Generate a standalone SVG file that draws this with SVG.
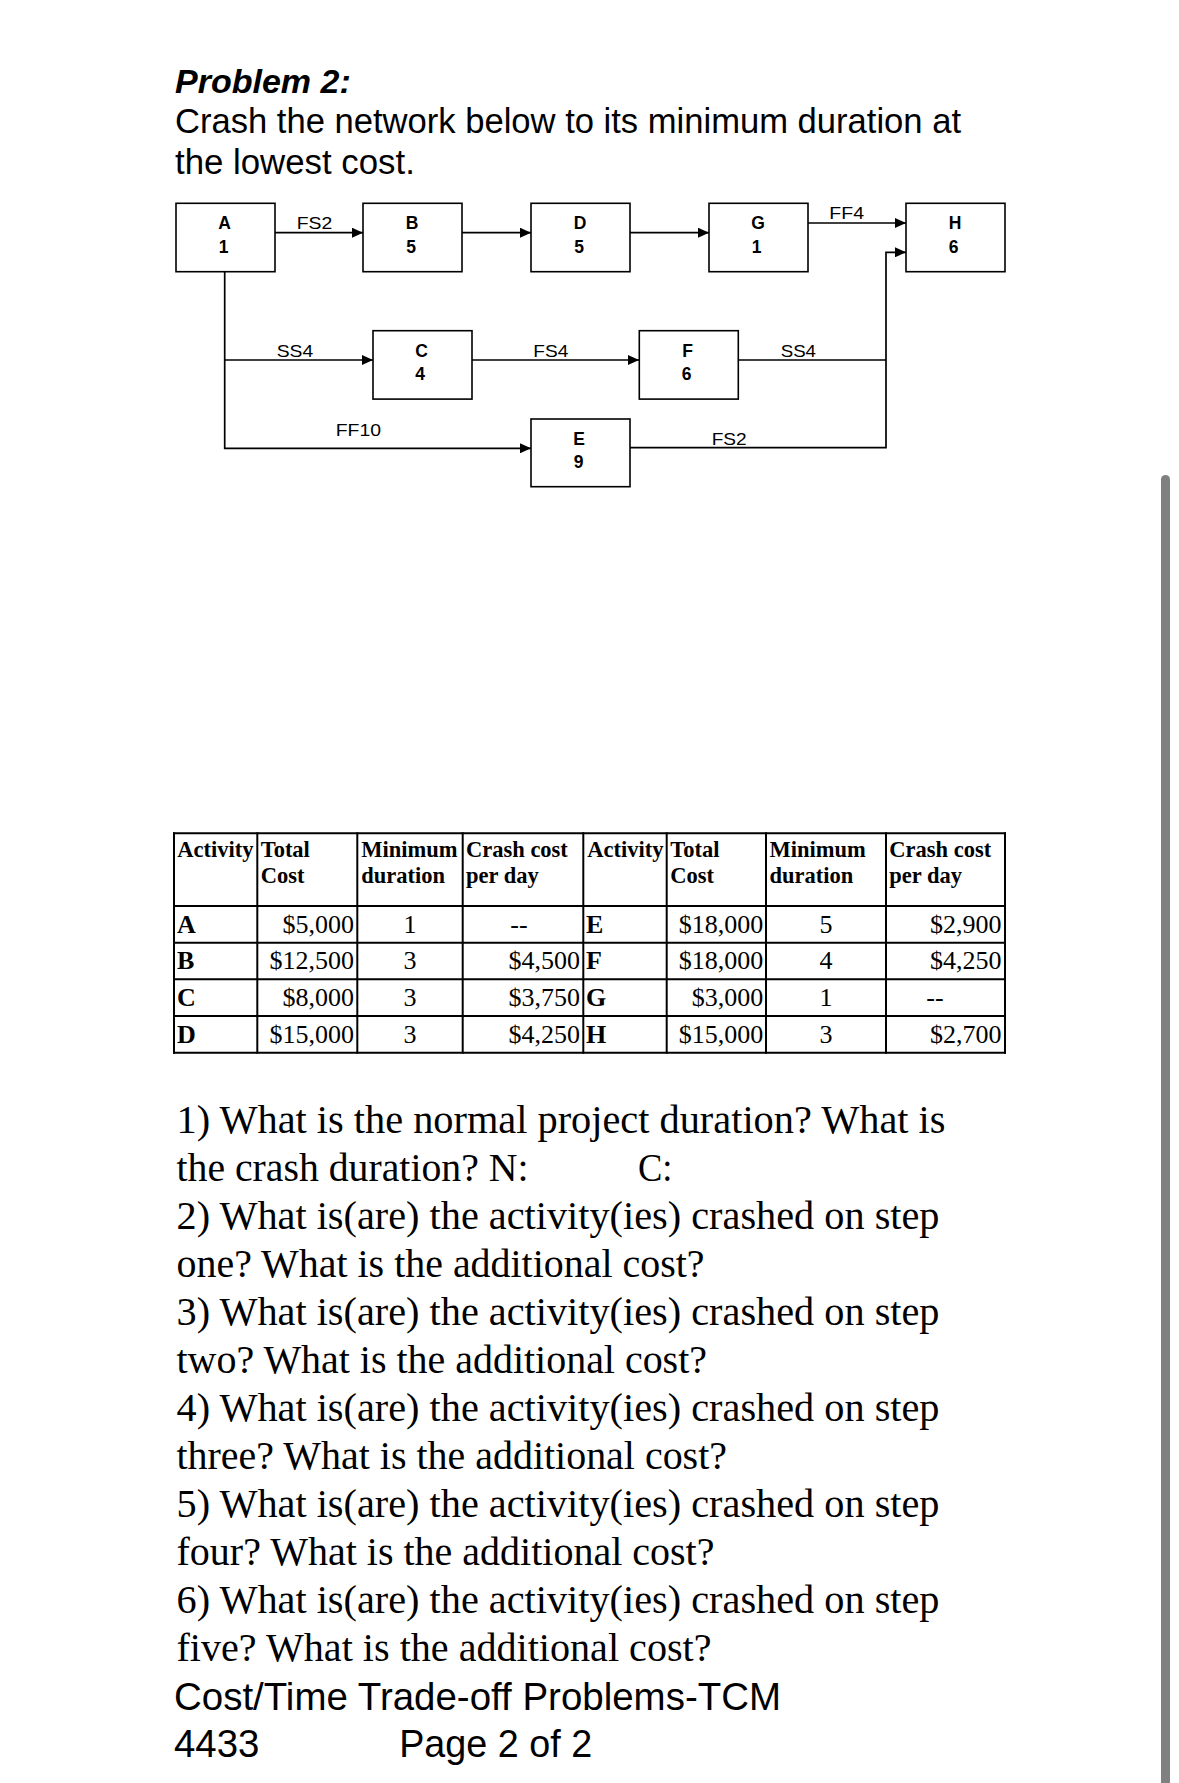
<svg xmlns="http://www.w3.org/2000/svg" width="1179" height="1783" viewBox="0 0 1179 1783">
<style>
.box{fill:#fff;stroke:#000;stroke-width:1.6}
.nt{font-family:"Liberation Sans",Arial,sans-serif;font-weight:bold;font-size:17.5px;text-anchor:middle;fill:#000}
.lbl{font-family:"Liberation Sans",Arial,sans-serif;font-size:16.5px;fill:#000}
.con{fill:none;stroke:#000;stroke-width:1.7}
.thin{fill:none;stroke:#000;stroke-width:1.3}
.tl{stroke:#000;stroke-width:2}
.th{font-family:"Liberation Serif","Times New Roman",serif;font-weight:bold;font-size:22.5px;fill:#000}
.td{font-family:"Liberation Serif","Times New Roman",serif;font-size:26px;fill:#000}
.tb{font-family:"Liberation Serif","Times New Roman",serif;font-weight:bold;font-size:26px;fill:#000}
.q{font-family:"Liberation Serif","Times New Roman",serif;font-size:39px;fill:#000}
.sans{font-family:"Liberation Sans",Arial,sans-serif;fill:#000}
</style>
<defs>
<marker id="ah" markerWidth="11" markerHeight="10" refX="11" refY="5" orient="auto" markerUnits="userSpaceOnUse"><path d="M0,0 L11,5 L0,10 z" fill="#000"/></marker>
</defs>
<rect width="1179" height="1783" fill="#fff"/>

<g id="title">
<text class="sans" x="175" y="92.5" font-size="34" font-weight="bold" font-style="italic">Problem 2:</text>
<text class="sans" x="175" y="133" font-size="34.8" textLength="786" lengthAdjust="spacingAndGlyphs">Crash the network below to its minimum duration at</text>
<text class="sans" x="175" y="173.5" font-size="34.8">the lowest cost.</text>
</g>

<g id="connectors">
<line class="con" x1="275" y1="232.7" x2="363" y2="232.7" marker-end="url(#ah)"/>
<line class="con" x1="462" y1="232.7" x2="531" y2="232.7" marker-end="url(#ah)"/>
<line class="con" x1="630" y1="232.7" x2="709" y2="232.7" marker-end="url(#ah)"/>
<line class="con" x1="808" y1="223" x2="906" y2="223" marker-end="url(#ah)"/>
<polyline class="con" points="224.7,272 224.7,448.3 531,448.3" marker-end="url(#ah)"/>
<line class="con" x1="224.7" y1="360" x2="373" y2="360" marker-end="url(#ah)"/>
<line class="con" x1="472" y1="360" x2="639" y2="360" marker-end="url(#ah)"/>
<line class="thin" x1="738" y1="360" x2="886" y2="360"/>
<polyline class="con" points="630,447.7 886,447.7 886,252.3 906,252.3" marker-end="url(#ah)"/>
<text class="lbl" x="296.7" y="229" textLength="35.5" lengthAdjust="spacingAndGlyphs">FS2</text>
<text class="lbl" x="276.7" y="356.7" textLength="36.5" lengthAdjust="spacingAndGlyphs">SS4</text>
<text class="lbl" x="335.7" y="435.7" textLength="45.3" lengthAdjust="spacingAndGlyphs">FF10</text>
<text class="lbl" x="533.3" y="356.7" textLength="35" lengthAdjust="spacingAndGlyphs">FS4</text>
<text class="lbl" x="829.3" y="218.7" textLength="34.7" lengthAdjust="spacingAndGlyphs">FF4</text>
<text class="lbl" x="780.7" y="356.7" textLength="35.3" lengthAdjust="spacingAndGlyphs">SS4</text>
<text class="lbl" x="711.7" y="445" textLength="35" lengthAdjust="spacingAndGlyphs">FS2</text>
</g>

<g id="node-A"><rect class="box" x="176" y="203.3" width="99" height="68.4"/><text class="nt" x="224.5" y="229.3">A</text><text class="nt" x="223.5" y="252.7">1</text></g>
<g id="node-B"><rect class="box" x="363" y="203.3" width="99" height="68.4"/><text class="nt" x="412" y="229.3">B</text><text class="nt" x="411" y="252.7">5</text></g>
<g id="node-D"><rect class="box" x="531" y="203.3" width="99" height="68.4"/><text class="nt" x="580" y="229.3">D</text><text class="nt" x="579" y="252.7">5</text></g>
<g id="node-G"><rect class="box" x="709" y="203.3" width="99" height="68.4"/><text class="nt" x="758" y="229.3">G</text><text class="nt" x="756.5" y="252.7">1</text></g>
<g id="node-H"><rect class="box" x="906" y="203.3" width="99" height="68.4"/><text class="nt" x="955" y="229.3">H</text><text class="nt" x="953.5" y="252.7">6</text></g>
<g id="node-C"><rect class="box" x="373" y="330.7" width="99" height="68.4"/><text class="nt" x="421.5" y="356.7">C</text><text class="nt" x="420" y="380">4</text></g>
<g id="node-F"><rect class="box" x="639.3" y="330.7" width="99" height="68.4"/><text class="nt" x="687.5" y="356.7">F</text><text class="nt" x="686.5" y="380">6</text></g>
<g id="node-E"><rect class="box" x="531" y="419" width="99" height="67.7"/><text class="nt" x="579" y="445">E</text><text class="nt" x="578.5" y="468">9</text></g>

<g id="table">
<g class="tl">
<line x1="173" y1="833.3" x2="1006" y2="833.3"/>
<line x1="173" y1="906" x2="1006" y2="906"/>
<line x1="173" y1="942.7" x2="1006" y2="942.7"/>
<line x1="173" y1="979.3" x2="1006" y2="979.3"/>
<line x1="173" y1="1016" x2="1006" y2="1016"/>
<line x1="173" y1="1052.7" x2="1006" y2="1052.7"/>
<line x1="174" y1="832.3" x2="174" y2="1053.7"/>
<line x1="257.3" y1="832.3" x2="257.3" y2="1053.7"/>
<line x1="357.3" y1="832.3" x2="357.3" y2="1053.7"/>
<line x1="462.7" y1="832.3" x2="462.7" y2="1053.7"/>
<line x1="583.3" y1="832.3" x2="583.3" y2="1053.7"/>
<line x1="666.7" y1="832.3" x2="666.7" y2="1053.7"/>
<line x1="766" y1="832.3" x2="766" y2="1053.7"/>
<line x1="886" y1="832.3" x2="886" y2="1053.7"/>
<line x1="1005" y1="832.3" x2="1005" y2="1053.7"/>
</g>
<text class="th" x="177.3" y="856.7">Activity</text>
<text class="th" x="260.7" y="856.7">Total</text><text class="th" x="260.7" y="883.3">Cost</text>
<text class="th" x="361.3" y="856.7">Minimum</text><text class="th" x="361.3" y="883.3">duration</text>
<text class="th" x="466" y="856.7">Crash cost</text><text class="th" x="466" y="883.3">per day</text>
<text class="th" x="587.3" y="856.7">Activity</text>
<text class="th" x="670.3" y="856.7">Total</text><text class="th" x="670.3" y="883.3">Cost</text>
<text class="th" x="769.5" y="856.7">Minimum</text><text class="th" x="769.5" y="883.3">duration</text>
<text class="th" x="889.3" y="856.7">Crash cost</text><text class="th" x="889.3" y="883.3">per day</text>

<text class="tb" x="177" y="932.5">A</text>
<text class="tb" x="177" y="969.2">B</text>
<text class="tb" x="177" y="1005.9">C</text>
<text class="tb" x="177" y="1042.6">D</text>
<g class="td" text-anchor="end">
<text x="354" y="932.5">$5,000</text>
<text x="354" y="969.2">$12,500</text>
<text x="354" y="1005.9">$8,000</text>
<text x="354" y="1042.6">$15,000</text>
<text x="580" y="969.2">$4,500</text>
<text x="580" y="1005.9">$3,750</text>
<text x="580" y="1042.6">$4,250</text>
<text x="763.3" y="932.5">$18,000</text>
<text x="763.3" y="969.2">$18,000</text>
<text x="763.3" y="1005.9">$3,000</text>
<text x="763.3" y="1042.6">$15,000</text>
<text x="1001.5" y="932.5">$2,900</text>
<text x="1001.5" y="969.2">$4,250</text>
<text x="1001.5" y="1042.6">$2,700</text>
</g>
<g class="td" text-anchor="middle">
<text x="410" y="932.5">1</text>
<text x="410" y="969.2">3</text>
<text x="410" y="1005.9">3</text>
<text x="410" y="1042.6">3</text>
<text x="519" y="932.5">--</text>
<text x="826" y="932.5">5</text>
<text x="826" y="969.2">4</text>
<text x="826" y="1005.9">1</text>
<text x="826" y="1042.6">3</text>
<text x="935" y="1005.9">--</text>
</g>
<text class="tb" x="586" y="932.5">E</text>
<text class="tb" x="586" y="969.2">F</text>
<text class="tb" x="586" y="1005.9">G</text>
<text class="tb" x="586" y="1042.6">H</text>
</g>

<g id="questions" class="q">
<text x="176.5" y="1132.5" textLength="769" lengthAdjust="spacingAndGlyphs">1) What is the normal project duration? What is</text>
<text x="176.5" y="1180.5" textLength="352" lengthAdjust="spacingAndGlyphs">the crash duration? N:</text>
<text x="638" y="1180.5" textLength="34.5" lengthAdjust="spacingAndGlyphs">C:</text>
<text x="176.5" y="1228.5" textLength="763" lengthAdjust="spacingAndGlyphs">2) What is(are) the activity(ies) crashed on step</text>
<text x="176.5" y="1276.5" textLength="528" lengthAdjust="spacingAndGlyphs">one? What is the additional cost?</text>
<text x="176.5" y="1324.5" textLength="763" lengthAdjust="spacingAndGlyphs">3) What is(are) the activity(ies) crashed on step</text>
<text x="176.5" y="1372.5" textLength="530.5" lengthAdjust="spacingAndGlyphs">two? What is the additional cost?</text>
<text x="176.5" y="1420.5" textLength="763" lengthAdjust="spacingAndGlyphs">4) What is(are) the activity(ies) crashed on step</text>
<text x="176.5" y="1468.5" textLength="550.5" lengthAdjust="spacingAndGlyphs">three? What is the additional cost?</text>
<text x="176.5" y="1516.5" textLength="763" lengthAdjust="spacingAndGlyphs">5) What is(are) the activity(ies) crashed on step</text>
<text x="176.5" y="1564.5" textLength="538" lengthAdjust="spacingAndGlyphs">four? What is the additional cost?</text>
<text x="176.5" y="1612.5" textLength="763" lengthAdjust="spacingAndGlyphs">6) What is(are) the activity(ies) crashed on step</text>
<text x="176.5" y="1660.5" textLength="535" lengthAdjust="spacingAndGlyphs">five? What is the additional cost?</text>
</g>

<g id="footer" class="sans" font-size="39.5">
<text x="174" y="1710" textLength="607" lengthAdjust="spacingAndGlyphs">Cost/Time Trade-off Problems-TCM</text>
<text x="174" y="1756.7" textLength="85.5" lengthAdjust="spacingAndGlyphs">4433</text>
<text x="399.2" y="1756.7" textLength="193" lengthAdjust="spacingAndGlyphs">Page 2 of 2</text>
</g>

<rect id="scrollbar" x="1161" y="475" width="9" height="1320" rx="4.5" fill="#808080"/>
</svg>
